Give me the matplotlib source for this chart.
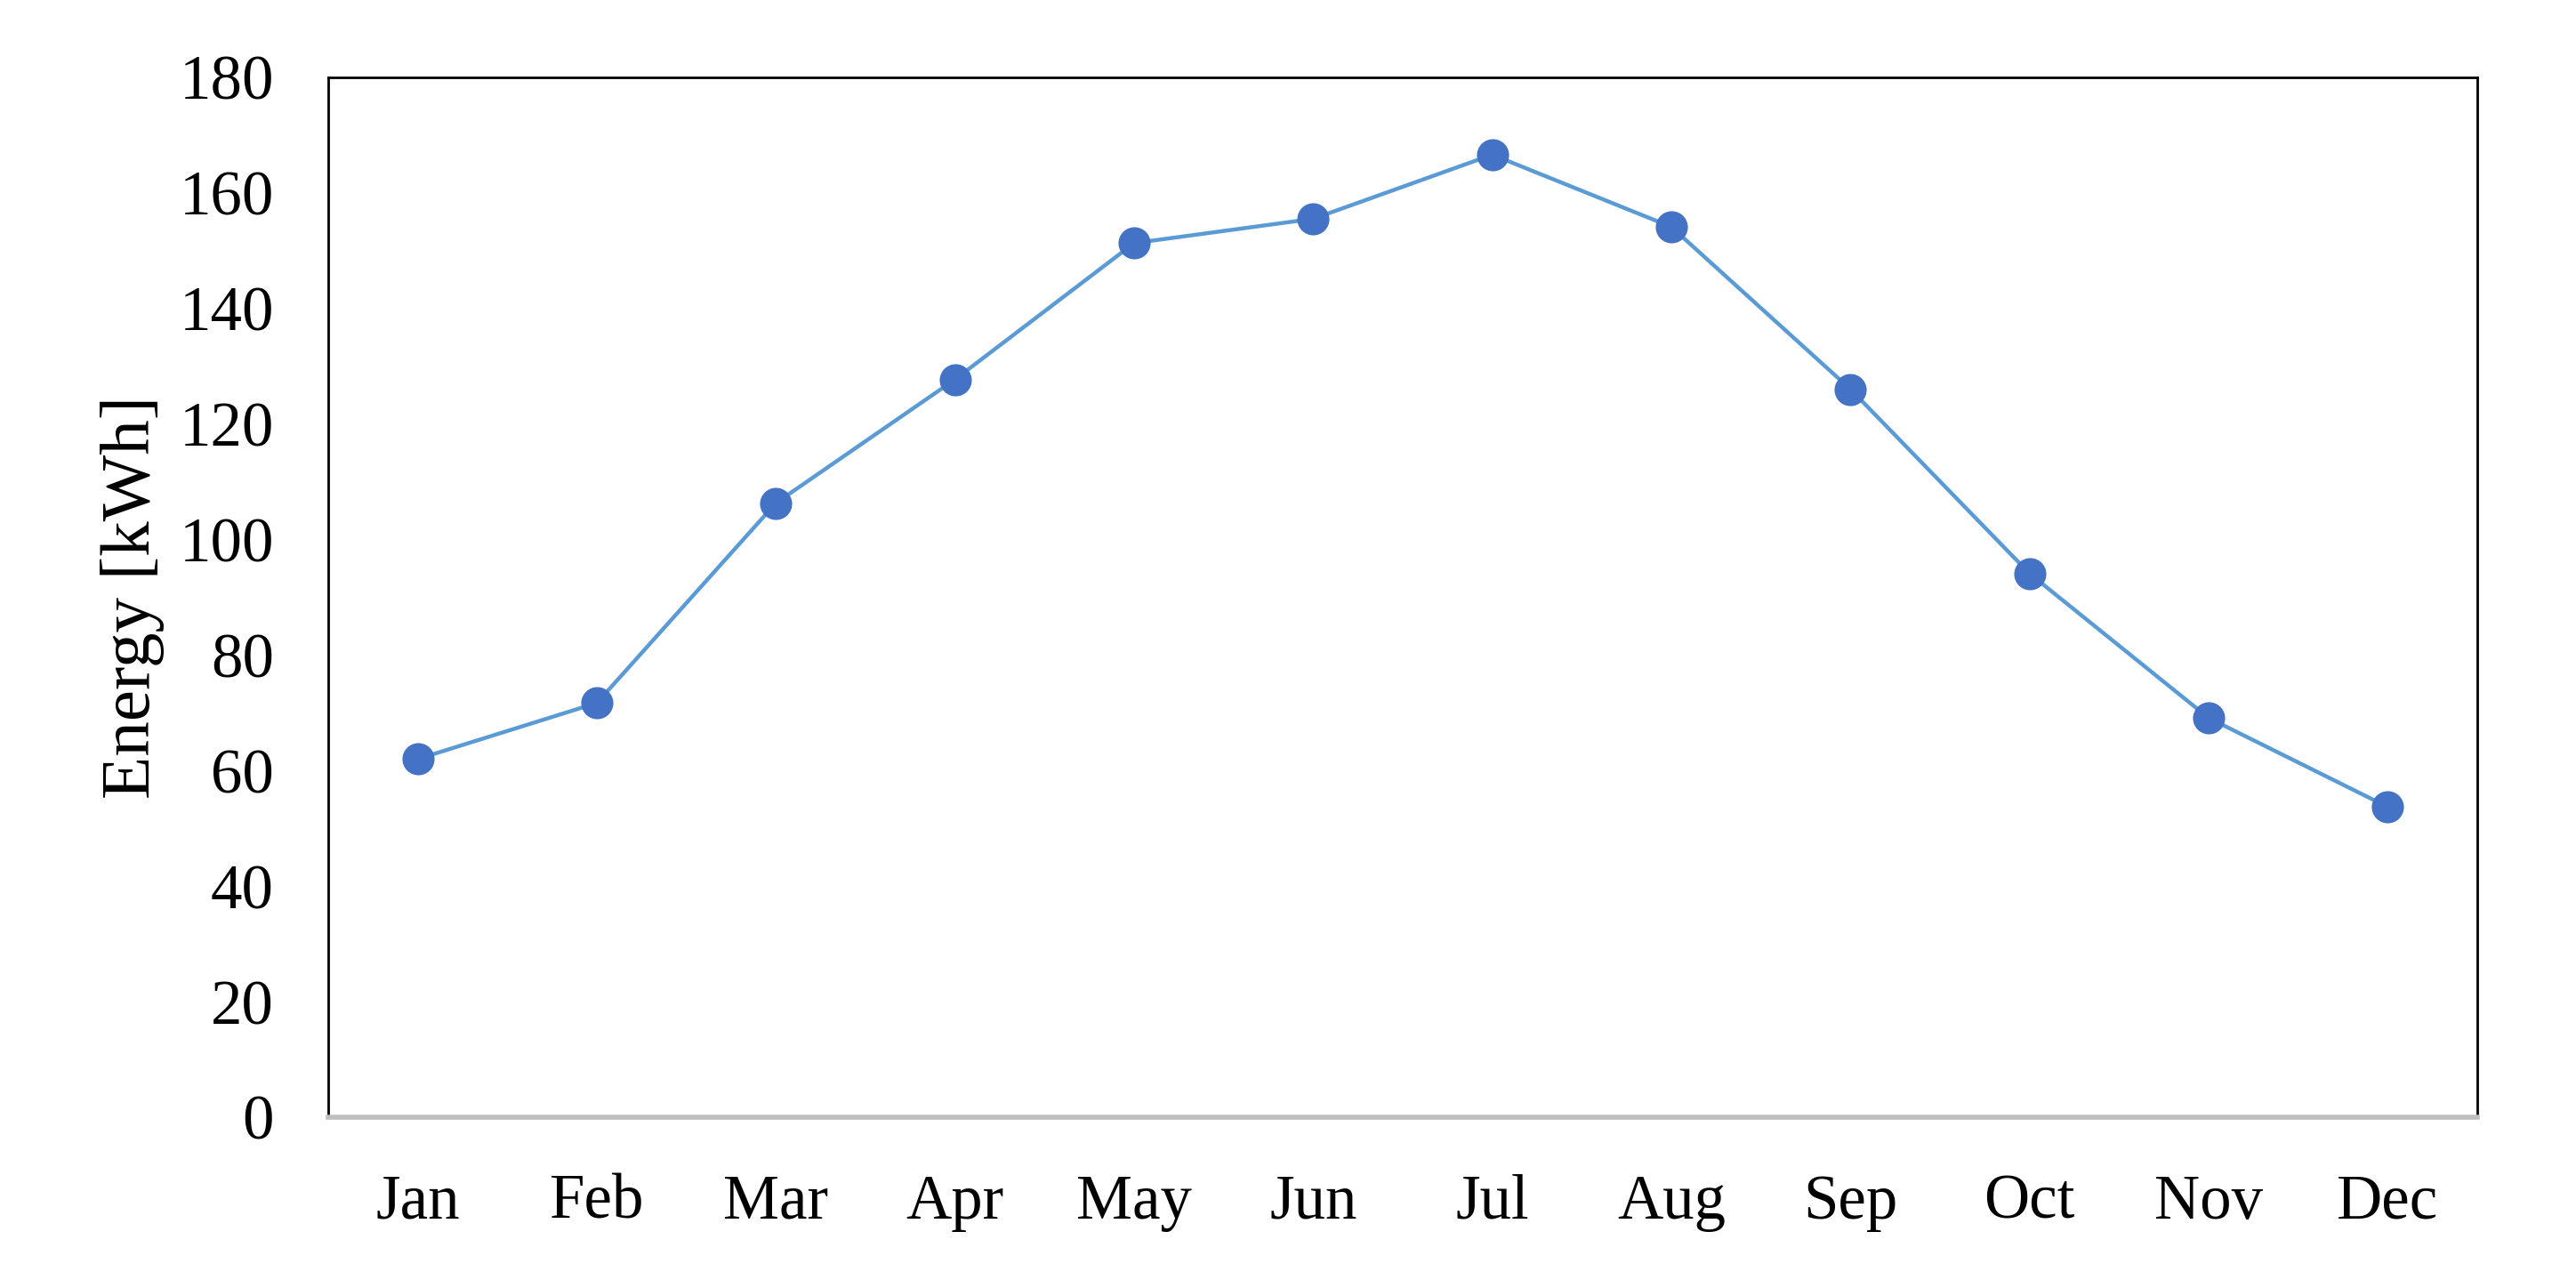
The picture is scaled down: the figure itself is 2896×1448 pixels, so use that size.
import matplotlib
matplotlib.use("Agg")
import matplotlib.pyplot as plt

months = ["Jan", "Feb", "Mar", "Apr", "May", "Jun", "Jul", "Aug", "Sep", "Oct", "Nov", "Dec"]
energy = [62.0, 71.7, 106.3, 127.7, 151.3, 155.5, 166.6, 154.1, 126.0, 94.1, 69.1, 53.7]
y_ticks = [0, 20, 40, 60, 80, 100, 120, 140, 160, 180]

plt.rcParams['font.family'] = ['Liberation Serif', 'DejaVu Serif']

fig = plt.figure(figsize=(14.48, 7.24), dpi=200)
ax = fig.add_axes([0.1274, 0.1326, 0.8343, 0.8074])

x = list(range(len(months)))
ax.plot(x, energy, color='#5B9BD5', linewidth=1.6, zorder=2)
ax.plot(x, energy, linestyle='none', marker='o', markersize=12,
        markerfacecolor='#4472C4', markeredgecolor='#4472C4', zorder=3)

ax.set_xlim(-0.5, len(months) - 0.5)
ax.set_ylim(0, 180)
ax.set_yticks(y_ticks)
ax.set_xticks(x)
ax.set_xticklabels(months)

ax.tick_params(axis='both', length=0, labelsize=25.5, colors='#000000')
ax.tick_params(axis='y', pad=22)
ax.tick_params(axis='x', pad=23)

for side in ['left', 'top', 'right']:
    ax.spines[side].set_color('#000000')
    ax.spines[side].set_linewidth(1.0)
ax.spines['bottom'].set_color('#BFBFBF')
ax.spines['bottom'].set_linewidth(2.0)

ax.set_ylabel('Energy [kWh]', fontsize=28.5, labelpad=6)

fig.savefig('out.png', dpi=200, facecolor='white')
